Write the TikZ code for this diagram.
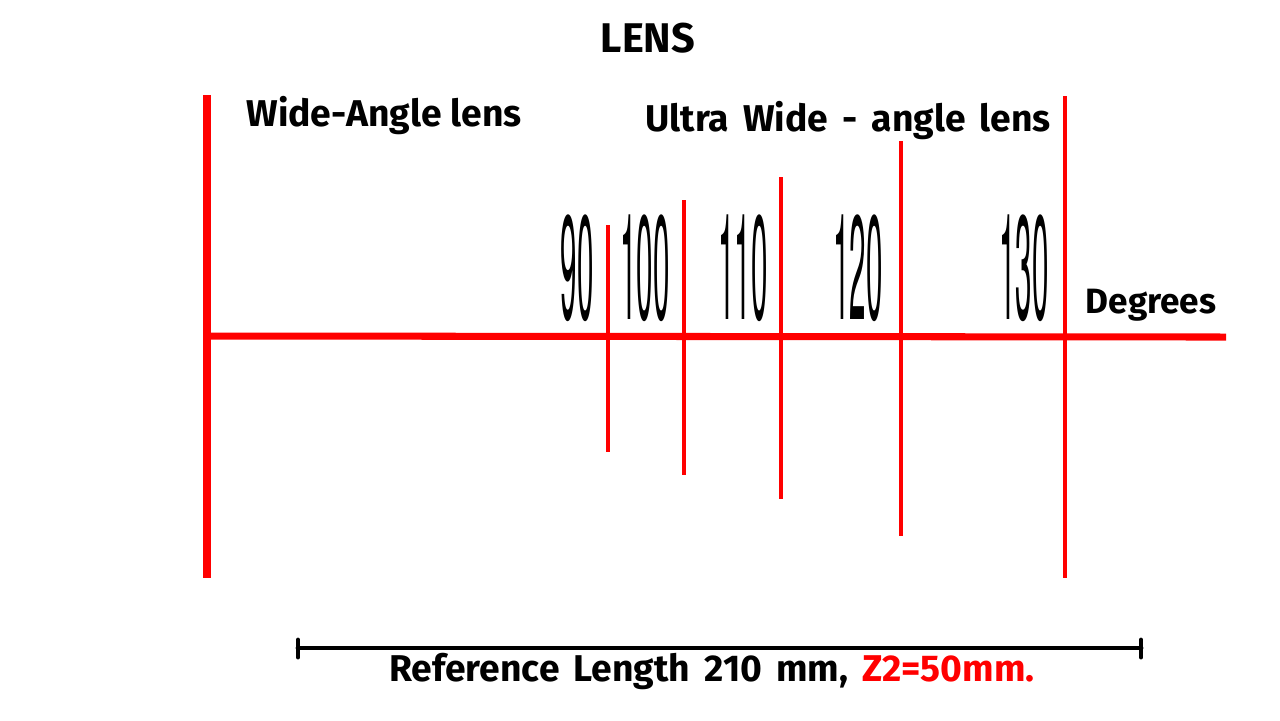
\documentclass[tikz,border=0pt]{standalone}
\usepackage{fontspec}
\setmainfont{Fira Sans}
\newfontfamily\degfont{TeX Gyre Heros}
\newfontfamily\widefont[WordSpace=1.6]{Fira Sans}
\usepackage{tikz}
\usetikzlibrary{positioning}
\definecolor{axisred}{RGB}{255,0,0}

\begin{document}
\begin{tikzpicture}[x=0.01cm, y=-0.01cm,
				caption/.style = {font=\bfseries\fontsize{10.6}{12}\selectfont, inner sep=0pt},
				widecaption/.style = {font=\widefont\bfseries\fontsize{10.6}{12}\selectfont, inner sep=0pt},
				num/.style = {xscale=0.2, transform shape, inner sep=0pt},
				axis/.style = {axisred, line width=2pt},
				tick/.style = {axisred, line width=0.9pt},
				bar/.style = {black, line width=1.4pt, line cap=round},
			]
			\useasboundingbox[fill=white] (0,0) rectangle (1280,720);

			\node[caption, font=\bfseries\fontsize{11.8}{12}\selectfont](title) at (648,38){LENS};
			\node[caption](wide) at (384,116){Wide-Angle lens};
			\node[widecaption](ultra) at (848,121){Ultra Wide - angle lens};
			\node[caption, font=\bfseries\fontsize{10}{12}\selectfont](deg) at (1151,305){Degrees};

			% main axis
			\coordinate(O) at (207,336);
			\coordinate(E) at (1226,337);
			\coordinate(VT) at (207,95);
			\coordinate(VB) at (207,578);
			\draw[axis](O)--(E);
			\draw[axis](VT)--(VB);

			% ticks and degree values
			\foreach \n/\x/\t/\b/\lx in {90/608/225/452/577, 100/684/200/475/645, 110/781/177/499/743, 120/901/141/536/858, 130/1065/96/578/1024}{
				\coordinate(top\n) at (\x,\t);
				\coordinate(bot\n) at (\x,\b);
				\draw[tick](top\n)--(bot\n);
				\node[num](lab\n) at (\lx,268){\degfont\fontsize{42}{42}\selectfont\n};
			}

			% reference length
			\coordinate(RL) at (298,648);
			\coordinate(RR) at (1141,648);
			\coordinate(RLt) at (298,640);
			\coordinate(RLb) at (298,657);
			\coordinate(RRt) at (1141,640);
			\coordinate(RRb) at (1141,657);
			\draw[bar](RL)--(RR);
			\draw[bar](RLt)--(RLb);
			\draw[bar](RRt)--(RRb);
			\node[widecaption](ref) at (712,671){Reference Length 210 mm, \textcolor{axisred}{Z2=50mm.}};

		\end{tikzpicture}
\end{document}
